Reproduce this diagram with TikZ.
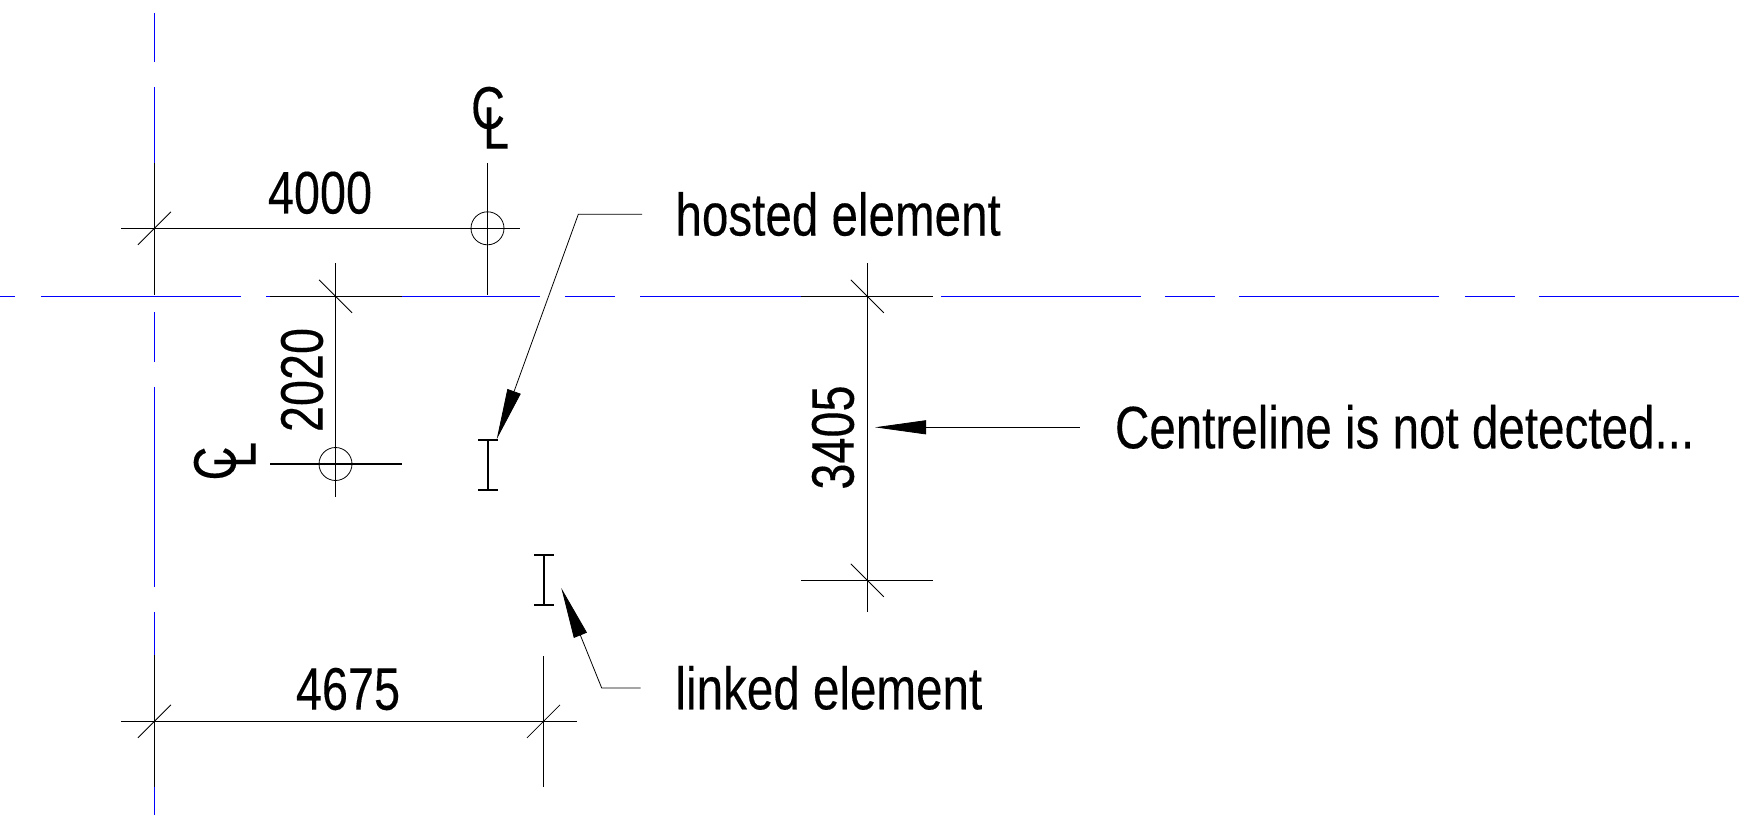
\documentclass[tikz,border=0pt]{standalone}
\usepackage{fontspec}
\usetikzlibrary{arrows.meta}
\setmainfont{Liberation Sans}[BoldFont={Liberation Sans},BoldFeatures={FakeBold=0.25}]
\definecolor{cad}{RGB}{0,0,255}
\newcommand{\cadtext}[2][.78]{\scalebox{#1}[1]{\fontsize{30pt}{30pt}\selectfont\bfseries #2}}
\tikzset{
  cl/.style={draw=cad,line width=0.55pt},
  dim/.style={draw=black,line width=0.55pt},
  thin tick/.style={draw=black,line width=0.4pt},
  ring/.style={draw=black,line width=0.4pt},
  beam/.style={draw=black,line width=0.9pt},
  leader/.style={draw=black,line width=0.4pt},
  lead arrow/.style={leader,{Triangle[length=25.5pt,width=7pt]}-},
  lblR/.style={inner sep=0pt,outer sep=0pt,anchor=base west,text=black},
  numb/.style={inner sep=0pt,outer sep=0pt,anchor=center,text=black},
}
\begin{document}
\begin{tikzpicture}[x=0.5pt,y=-0.5pt]
\useasboundingbox (0,0) rectangle (1745,815);
% centrelines
\foreach \a/\b in {0/15,41/241,266/315,340/540,565/615,640/840,865/915,941/1141,1165/1215,1239/1439,1465/1515,1539/1739}
  \draw[cl] (\a,296.3) -- (\b,296.3);
\foreach \a/\b in {13/62,87/287,312/362,387/587,612/815}
  \draw[cl] (154.5,\a) -- (154.5,\b);
% named points
\coordinate (d1a) at (154.5,228.3);
\coordinate (d1b) at (487.5,228.3);
\coordinate (d2a) at (335.5,296.3);
\coordinate (d2b) at (335.5,464);
\coordinate (d3a) at (867.3,296.3);
\coordinate (d3b) at (867.3,580.3);
\coordinate (d4a) at (154.5,721.3);
\coordinate (d4b) at (543.5,721.3);
% dimension 4000
\draw[dim] (121,228.3) -- (520,228.3);
\draw[dim] (154.5,163.3) -- (154.5,295);
\draw[dim] (487.5,163.3) -- (487.5,295);
\draw[thin tick] ([shift={(-16.5,16.5)}]d1a) -- ([shift={(16.5,-16.5)}]d1a);
\node[ring,circle,minimum size=16.5pt,inner sep=0pt] (c1) at (d1b) {};
% dimension 2020
\draw[dim] (335.5,263) -- (335.5,497);
\draw[dim] (270,296.3) -- (402,296.3);
\draw[dim] (270,464) -- (402,464);
\draw[thin tick] ([shift={(-16.5,-16.5)}]d2a) -- ([shift={(16.5,16.5)}]d2a);
\node[ring,circle,minimum size=16.5pt,inner sep=0pt] (c2) at (d2b) {};
% dimension 3405
\draw[dim] (867.3,263.3) -- (867.3,612.3);
\draw[dim] (801.3,296.3) -- (933,296.3);
\draw[dim] (801.3,580.3) -- (933,580.3);
\draw[thin tick] ([shift={(-16.5,-16.5)}]d3a) -- ([shift={(16.5,16.5)}]d3a);
\draw[thin tick] ([shift={(-16.5,-16.5)}]d3b) -- ([shift={(16.5,16.5)}]d3b);
% dimension 4675
\draw[dim] (121,721.3) -- (577,721.3);
\draw[dim] (154.5,655) -- (154.5,787);
\draw[dim] (543.5,656) -- (543.5,787);
\draw[thin tick] ([shift={(-16.5,16.5)}]d4a) -- ([shift={(16.5,-16.5)}]d4a);
\draw[thin tick] ([shift={(-16.5,16.5)}]d4b) -- ([shift={(16.5,-16.5)}]d4b);
% I-beams
\draw[beam] (478.3,440) -- (497.7,440) (488.3,440) -- (488.3,490) (478.3,490) -- (497.7,490);
\draw[beam] (534,554.7) -- (554,554.7) (544,554.7) -- (544,605) (534,605) -- (554,605);
% numbers
\node[numb] (n4000) at (320,192.8) {\cadtext{4000}};
\node[numb,rotate=90] (n2020) at (302,380) {\cadtext{2020}};
\node[numb,rotate=90] (n3405) at (833,437.5) {\cadtext{3405}};
\node[numb] (n4675) at (348,689) {\cadtext{4675}};
% centreline symbols
\node[numb] (cT) at (488,108) {\cadtext{C}};
\node[numb] (lT) at (496,128) {\cadtext{L}};
\node[numb,rotate=90] (cL) at (215,463.5) {\cadtext{C}};
\node[numb,rotate=90] (lL) at (235,455) {\cadtext{L}};
% labels
\node[lblR] (hosted) at (675.5,235.5) {\cadtext[.793]{hosted element}};
\node[lblR] (linked) at (675.5,709.3) {\cadtext[.793]{linked element}};
\node[lblR] (centre) at (1115,448.3) {\cadtext[.793]{Centreline is not detected...}};
% leaders
\coordinate (tipH) at (496.7,439.3);
\coordinate (kneeH) at (578.3,214.3);
\coordinate (endH) at (642,214.3);
\draw[lead arrow] (tipH) -- (kneeH) -- (endH);
\coordinate (tipL) at (561.3,588);
\coordinate (kneeL) at (601.7,688);
\coordinate (endL) at (640.7,688);
\draw[lead arrow] (tipL) -- (kneeL) -- (endL);
\coordinate (tipC) at (875,427.3);
\coordinate (endC) at (1080,427.3);
\draw[lead arrow] (tipC) -- (endC);
\end{tikzpicture}
\end{document}
